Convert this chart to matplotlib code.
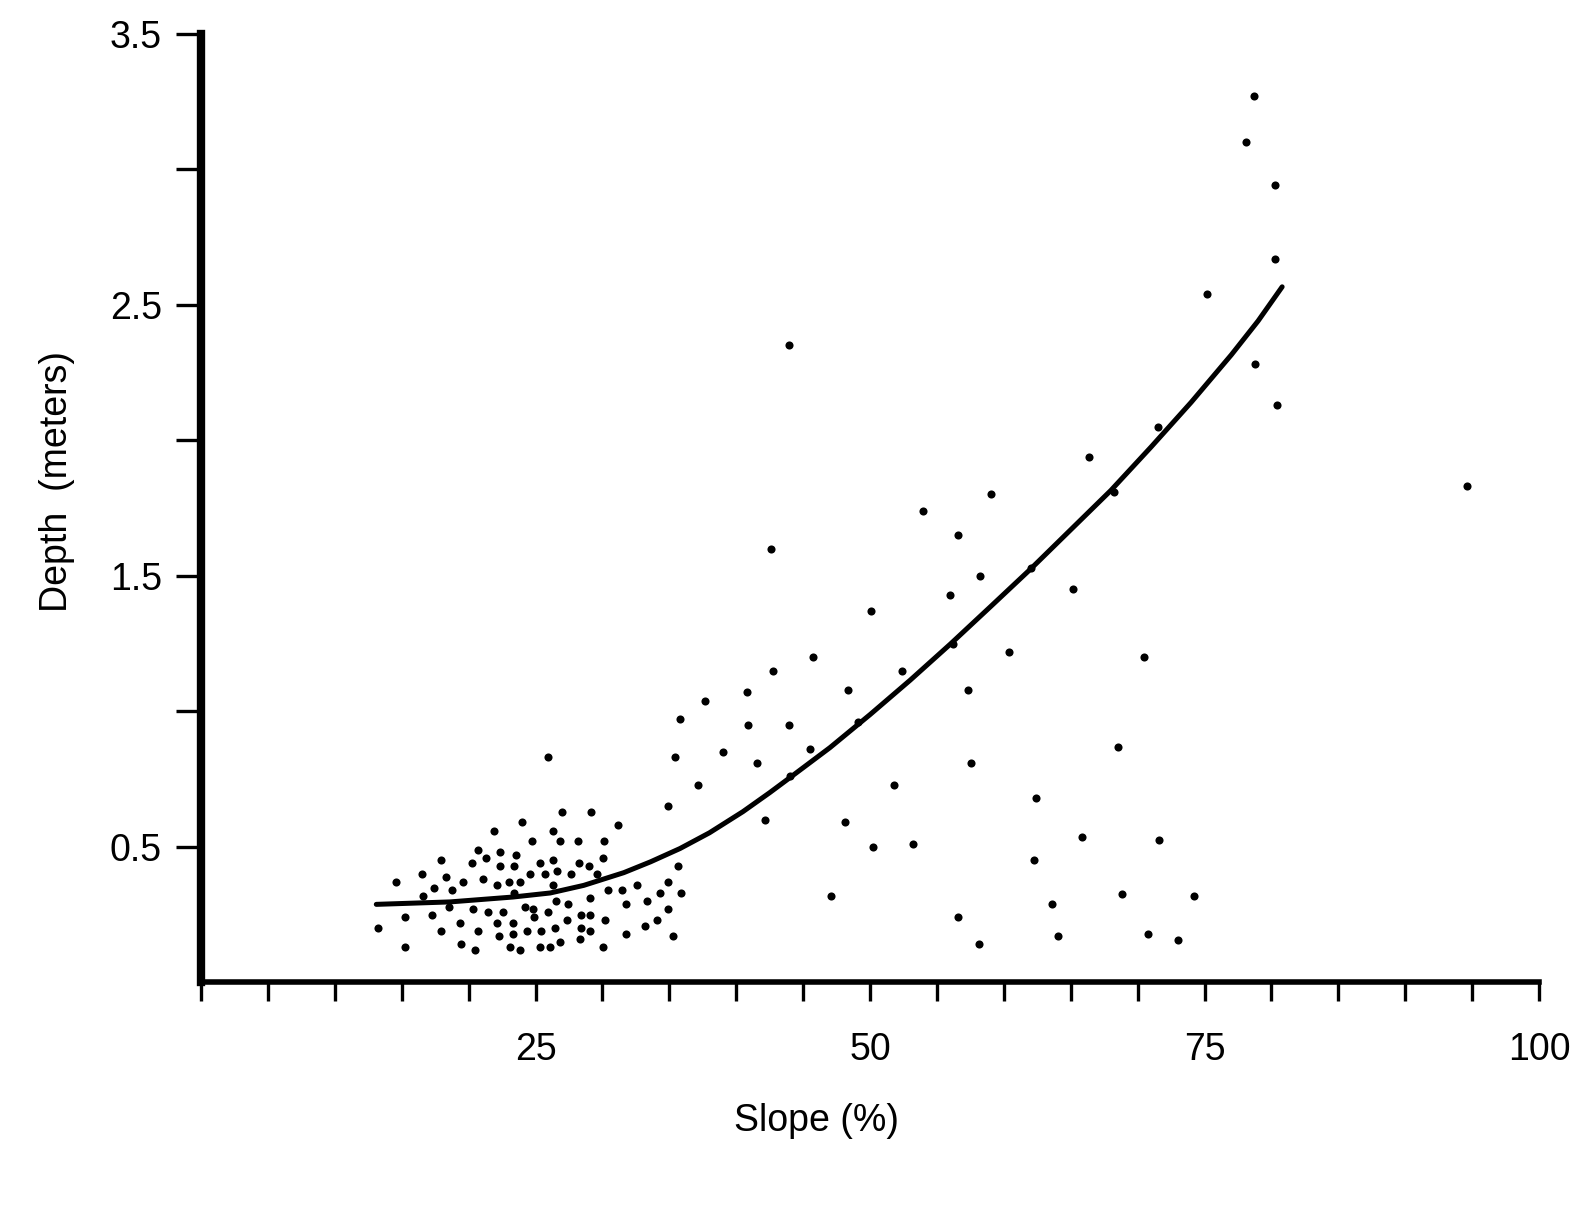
import matplotlib
matplotlib.use("Agg")
import matplotlib.pyplot as plt

# scatter: slope (%) vs depth (m)
slope_pct = [
    25.93, 35.43, 37.17, 34.93, 27.00, 29.15, 23.99, 21.90, 26.29, 31.17,
    24.74, 26.81, 28.18, 30.14, 20.72, 22.35, 21.28, 23.52, 17.91, 20.25,
    25.34, 26.33, 30.07, 28.25, 28.98, 22.35, 23.42, 16.52, 18.29, 19.60,
    21.05, 24.59, 25.71, 26.58, 27.65, 29.57, 35.67, 14.55, 17.44, 18.74,
    22.10, 23.04, 23.84, 26.33, 30.40, 31.49, 32.61, 34.93, 35.87, 16.61,
    34.30, 29.07, 33.31, 17.24, 18.56, 20.31, 21.47, 22.59, 24.22, 24.79,
    26.51, 27.45, 31.76, 34.88, 15.25, 22.10, 23.30, 24.91, 25.96, 27.33,
    28.40, 29.07, 30.19, 33.21, 34.10, 13.25, 17.94, 19.36, 20.72, 22.29,
    23.34, 24.34, 25.41, 26.46, 28.40, 29.07, 31.76, 35.30, 15.25, 19.43,
    20.48, 23.09, 23.84, 25.34, 26.08, 26.83, 28.33, 30.07, 23.40,
    59.04, 53.98, 56.55, 42.58, 58.25, 55.98, 65.15, 50.05, 45.76, 42.77,
    52.37, 60.41, 48.38, 57.30, 40.83, 37.69, 35.80, 40.90, 43.97, 38.99,
    45.52, 41.58, 57.55, 51.82, 62.38, 42.15, 48.15, 50.20, 53.24, 65.82,
    62.26, 47.06, 63.58, 56.60, 64.03, 58.15,
    44.00, 49.10, 56.20, 62.00, 68.20,
    78.70, 78.10, 80.30, 80.30, 75.20, 78.80, 80.40, 71.55, 94.60, 66.39,
    43.97, 70.50, 68.51, 71.60, 68.81, 74.22, 70.80, 73.04,
]
depth_m = [
    0.83, 0.83, 0.73, 0.65, 0.63, 0.63, 0.59, 0.56, 0.56, 0.58,
    0.52, 0.52, 0.52, 0.52, 0.49, 0.48, 0.46, 0.47, 0.45, 0.44,
    0.44, 0.45, 0.46, 0.44, 0.43, 0.43, 0.43, 0.40, 0.39, 0.37,
    0.38, 0.40, 0.40, 0.41, 0.40, 0.40, 0.43, 0.37, 0.35, 0.34,
    0.36, 0.37, 0.37, 0.36, 0.34, 0.34, 0.36, 0.37, 0.33, 0.32,
    0.33, 0.31, 0.30, 0.25, 0.28, 0.27, 0.26, 0.26, 0.28, 0.27,
    0.30, 0.29, 0.29, 0.27, 0.24, 0.22, 0.22, 0.24, 0.26, 0.23,
    0.25, 0.25, 0.23, 0.21, 0.23, 0.20, 0.19, 0.22, 0.19, 0.17,
    0.18, 0.19, 0.19, 0.20, 0.20, 0.19, 0.18, 0.17, 0.13, 0.14,
    0.12, 0.13, 0.12, 0.13, 0.13, 0.15, 0.16, 0.13, 0.33,
    1.80, 1.74, 1.65, 1.60, 1.50, 1.43, 1.45, 1.37, 1.20, 1.15,
    1.15, 1.22, 1.08, 1.08, 1.07, 1.04, 0.97, 0.95, 0.95, 0.85,
    0.86, 0.81, 0.81, 0.73, 0.68, 0.60, 0.59, 0.50, 0.51, 0.535,
    0.45, 0.32, 0.29, 0.24, 0.17, 0.14,
    0.76, 0.96, 1.25, 1.53, 1.81,
    3.27, 3.10, 2.94, 2.67, 2.54, 2.28, 2.13, 2.05, 1.83, 1.94,
    2.35, 1.20, 0.87, 0.525, 0.325, 0.32, 0.18, 0.155,
]

# fitted curve
curve_slope = [13.1, 18.6, 23.3, 26.1, 28.6, 31.6, 33.6, 35.8, 38.0, 40.5, 42.5,
               44.0, 47.0, 50.0, 53.0, 56.0, 59.0, 62.0, 65.0, 68.0, 71.0,
               74.0, 77.0, 79.0, 80.8]
curve_depth = [0.288, 0.297, 0.315, 0.330, 0.358, 0.405, 0.445, 0.494, 0.552, 0.630, 0.700,
               0.755, 0.866, 0.988, 1.115, 1.248, 1.386, 1.525, 1.670, 1.815, 1.975,
               2.140, 2.315, 2.440, 2.566]

x_ticks = list(range(0, 101, 5))
x_labels = {25: "25", 50: "50", 75: "75", 100: "100"}
y_ticks = [0.5, 1.0, 1.5, 2.0, 2.5, 3.0, 3.5]
y_labels = {0.5: "0.5", 1.5: "1.5", 2.5: "2.5", 3.5: "3.5"}

plt.rcParams['font.family'] = ['Liberation Sans', 'DejaVu Sans']

fig = plt.figure(figsize=(15.79, 12.23), dpi=100)
ax = fig.add_axes([0.1273, 0.1967, 0.8474, 0.7758])

ax.scatter(slope_pct, depth_m, s=34, c='black', marker='o', linewidths=0, zorder=3)
ax.plot(curve_slope, curve_depth, color='black', linewidth=3.6,
        solid_capstyle='round', solid_joinstyle='round', zorder=2)

ax.set_xlim(0, 100)
ax.set_ylim(0, 3.5)

for side in ['top', 'right']:
    ax.spines[side].set_visible(False)
ax.spines['left'].set_linewidth(6)
ax.spines['bottom'].set_linewidth(4)

ax.set_xticks(x_ticks)
ax.set_xticklabels([x_labels.get(t, "") for t in x_ticks])
ax.set_yticks(y_ticks)
ax.set_yticklabels([y_labels.get(t, "") for t in y_ticks])

ax.tick_params(axis='x', direction='out', length=14, width=2.4, pad=22, labelsize=27)
ax.tick_params(axis='y', direction='out', length=18, width=2.4, pad=10, labelsize=27)

ax.set_xlabel("Slope (%)", fontsize=27)
ax.xaxis.set_label_coords(0.460, -0.127)
ax.set_ylabel("Depth  (meters)", fontsize=27)
ax.yaxis.set_label_coords(-0.094, 0.528)

fig.savefig("out.png", dpi=100, facecolor='white')
